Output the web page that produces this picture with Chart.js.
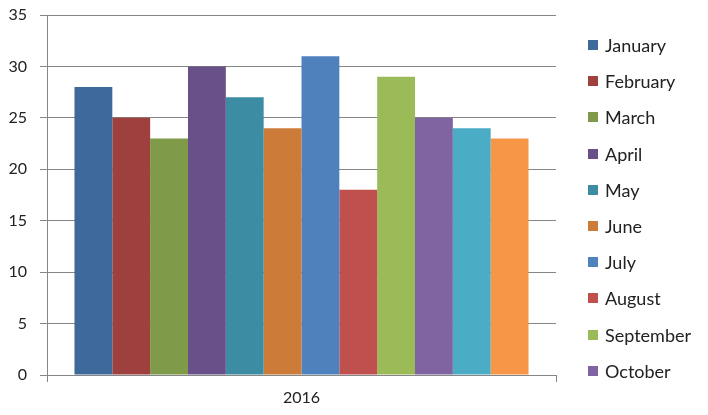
<!DOCTYPE html>
<html>
<head>
<meta charset="utf-8">
<script src="https://cdn.jsdelivr.net/npm/chart.js@4"></script>
<style>
  html, body { margin: 0; padding: 0; background: #fff; }
  #wrap { position: relative; width: 708px; height: 415px; overflow: hidden; }
  #chart { position: absolute; left: 0; top: 0; }
  #legend { position: absolute; left: 588px; top: 27px; height: 362px; overflow: hidden;
            font-family: Lato, sans-serif; font-size: 18px; color: #222; }
  .item { height: 36.2px; display: flex; align-items: center; white-space: nowrap; }
  .swatch { width: 10px; height: 10px; margin-right: 7px; }
</style>
</head>
<body>
<div id="wrap">
  <canvas id="chart" width="708" height="415"></canvas>
  <div id="legend"></div>
</div>
<script>
// data
const categories = ['2016'];
const months = ['January', 'February', 'March', 'April', 'May', 'June',
                'July', 'August', 'September', 'October', 'November', 'December'];
const values = [28, 25, 23, 30, 27, 24, 31, 18, 29, 25, 24, 23];
const yMax = 35;
const yStep = 5;

// Excel 2010 style palette (first six are the darker shades)
const colors = ['#3e699b', '#9e403d', '#7f9a48', '#6a5088', '#3c8da3', '#cc7b38',
                '#4f81bd', '#c0504d', '#9bbb59', '#8064a2', '#4bacc6', '#f79646'];

const axisGray = '#868686';
const textColor = '#222';

const datasets = months.map((m, i) => ({
    label: m,
    data: [values[i]],
    backgroundColor: colors[i],
    borderWidth: 0,
    categoryPercentage: 0.892,
    barPercentage: 1.0
}));

new Chart(document.getElementById('chart'), {
    type: 'bar',
    data: { labels: categories, datasets: datasets },
    options: {
        responsive: false,
        animation: false,
        layout: { padding: { left: 0, top: 15, right: 152, bottom: 0 } },
        plugins: { legend: { display: false }, tooltip: { enabled: false } },
        scales: {
            x: {
                offset: true,
                grid: { offset: true, drawOnChartArea: false, drawTicks: true, tickLength: 7, color: axisGray },
                border: { color: axisGray },
                ticks: { color: textColor, font: { family: 'Lato', size: 16 }, padding: 6 },
                afterFit: (scale) => { scale.height = 40; }
            },
            y: {
                min: 0,
                max: yMax,
                grid: { color: axisGray, tickLength: 7 },
                border: { color: axisGray },
                ticks: { stepSize: yStep, color: textColor, font: { family: 'Lato', size: 16 }, padding: 13 },
                afterFit: (scale) => {
                    scale.width = 47;
                    // keep the top gridline at the padding edge
                    scale.paddingTop = 0;
                    scale.paddingBottom = 0;
                }
            }
        }
    }
});

// legend on the right, clipped after October like the original
const legend = document.getElementById('legend');
months.forEach((m, i) => {
    const row = document.createElement('div');
    row.className = 'item';
    row.innerHTML = '<span class="swatch" style="background:' + colors[i] + '"></span><span>' + m + '</span>';
    legend.appendChild(row);
});
</script>
</body>
</html>
